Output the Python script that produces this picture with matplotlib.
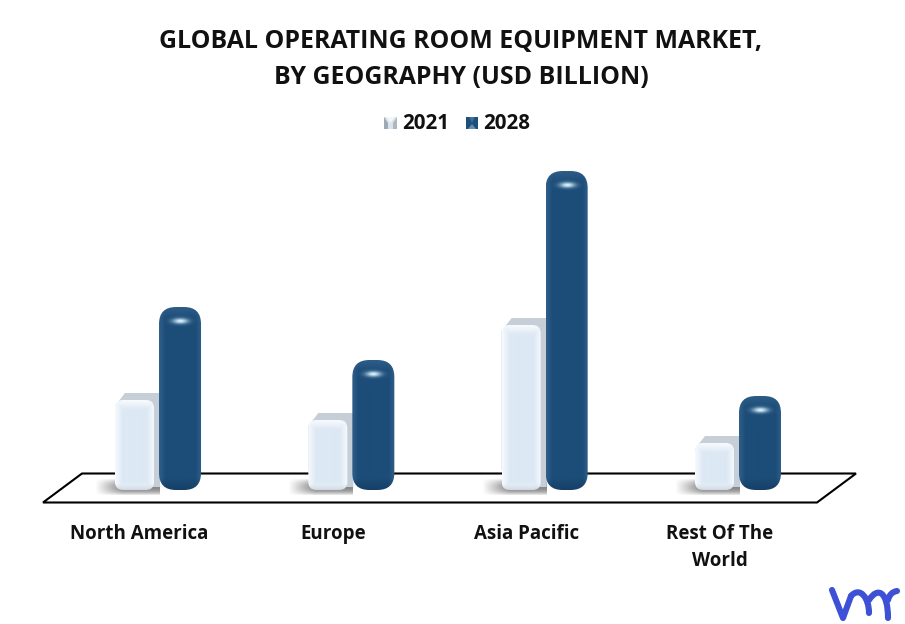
import numpy as np
import matplotlib
matplotlib.use("Agg")
import matplotlib.pyplot as plt
from matplotlib.patches import FancyBboxPatch, Polygon, Rectangle, PathPatch
from matplotlib.path import Path

# heights, no value axis in the original
categories = ["North America", "Europe", "Asia Pacific", "Rest Of The\nWorld"]
years = ["2021", "2028"]
values_2021 = [9.7, 7.7, 17.2, 5.4]
values_2028 = [18.3, 13.0, 31.9, 9.4]

plt.rcParams["font.family"] = ["Open Sans", "DejaVu Sans"]

W, H = 905, 624
PX_X = 193.3  # pixels per category
PX_Y = 10.0   # pixels per value unit

LIGHT_FACE = np.array([220, 232, 244]) / 255
LIGHT_RIM = np.array([248, 251, 254]) / 255
LIGHT_EDGE = np.array([196, 206, 218]) / 255
DARK_FACE = np.array([28, 76, 120]) / 255
DARK_RIM = np.array([48, 96, 138]) / 255
DARK_EDGE = np.array([20, 60, 98]) / 255
HILITE = np.array([215, 242, 255]) / 255


def light_image(w, h):
    # bevelled box: pale rim, flat face, darker lower edge
    xx, yy = np.meshgrid(np.arange(w) + 0.5, np.arange(h) + 0.5)
    d = np.minimum.reduce([xx, w - xx, yy * 0.8, h - yy])
    t = np.clip(d / 8, 0, 1)[..., None]
    img = LIGHT_RIM * (1 - t) + LIGHT_FACE * t
    low = np.clip((yy - (h - 6)) / 6, 0, 1)[..., None] * 0.8
    return img * (1 - low) + LIGHT_EDGE * low


def dark_image(w, h):
    # rounded column: lighter sides, lighter cap, highlight spot near the top
    xx, yy = np.meshgrid(np.arange(w) + 0.5, np.arange(h) + 0.5)
    u = np.abs(xx / w - 0.5) * 2
    t = np.clip((u - 0.7) / 0.3, 0, 1)[..., None]
    img = DARK_FACE * (1 - t) + DARK_RIM * t
    cap = np.clip(1 - yy / 11, 0, 1)[..., None] * 0.9
    img = img * (1 - cap) + DARK_RIM * cap
    low = np.clip((yy - (h - 12)) / 12, 0, 1)[..., None] * 0.8
    img = img * (1 - low) + DARK_EDGE * low
    spot = np.exp(-(((xx - w / 2) / 7.5) ** 2 + ((yy - 14) / 2.8) ** 2))[..., None]
    return img * (1 - spot) + HILITE * spot


def draw_shadow(ax, x, w):
    xs = np.linspace(0, 1, 64)
    ys = np.linspace(-1, 1, 18)
    xx, yy = np.meshgrid(xs, ys)
    alpha = np.clip(xx * 2.4, 0, 1) * np.clip(1 - np.abs(yy) ** 2, 0, 1) * 0.75
    img = np.zeros((18, 64, 4))
    img[..., :3] = 0.38
    img[..., 3] = alpha
    left = x - w / 2 - 20 / PX_X
    right = x + w / 2 + 2 / PX_X
    ax.imshow(img, extent=(left, right, -0.6, 1.2), aspect="auto", zorder=1,
              clip_on=False, interpolation="bilinear")


def draw_bar(ax, x, w, h, img_func, rounding, zorder):
    aspect = (1 / PX_Y) / (1 / PX_X)
    patch = FancyBboxPatch((x - w / 2, 0), w, h,
                           boxstyle="round,pad=0,rounding_size=%f" % (rounding / PX_X),
                           mutation_aspect=aspect, fc="none", ec="none", zorder=zorder)
    ax.add_patch(patch)
    img = img_func(int(round(w * PX_X)), int(round(h * PX_Y)))
    im = ax.imshow(img, extent=(x - w / 2, x + w / 2, 0, h), aspect="auto",
                   zorder=zorder, interpolation="bilinear")
    im.set_clip_path(patch)


fig = plt.figure(figsize=(W / 100, H / 100), dpi=100, facecolor="white")

# background layer in pixel coordinates: floor, legend keys, logo
bg = fig.add_axes([0, 0, 1, 1])
bg.set_xlim(0, W)
bg.set_ylim(H, 0)
bg.axis("off")

bg.add_patch(Polygon([(43, 502.5), (82, 473.5), (856, 473.5), (817, 502.5)], closed=True,
                     fc="white", ec="black", lw=1.5, joinstyle="miter"))

# legend keys
bg.add_patch(Rectangle((384, 117), 13, 12, fc="#dbe3ea", ec="none"))
bg.add_patch(Polygon([(384, 117), (388, 123), (388, 129), (384, 129)], fc="#9fa9b3", ec="none"))
bg.add_patch(Polygon([(397, 117), (393, 123), (393, 129), (397, 129)], fc="#aeb7c0", ec="none"))
bg.add_patch(Polygon([(386, 117), (395, 117), (390.5, 123)], fc="#f4f7fa", ec="none"))
bg.add_patch(Rectangle((466, 117), 12, 12, fc="#1f4e79", ec="none"))
bg.add_patch(Polygon([(469, 117), (475, 117), (472, 123)], fc="#3f7099", ec="none"))
bg.add_patch(Polygon([(468, 129), (476, 129), (472, 124)], fc="#5f90b4", ec="none"))

bg.text(402, 123.5, years[0], fontsize=14.8, fontweight="bold", color="#111111", va="center", ha="left")
bg.text(483, 123.5, years[1], fontsize=14.8, fontweight="bold", color="#111111", va="center", ha="left")

bg.text(461, 41, "GLOBAL OPERATING ROOM EQUIPMENT MARKET,", fontsize=17.9, fontweight="bold",
        color="#111111", ha="center", va="center")
bg.text(461, 77, "BY GEOGRAPHY (USD BILLION)", fontsize=17.9, fontweight="bold",
        color="#111111", ha="center", va="center")

# logo
logo_v = Path([(832, 590), (843, 618), (851, 596)], [Path.MOVETO, Path.LINETO, Path.LINETO])
logo_a = Path([(851, 596), (860, 586), (869, 598), (869, 613)],
              [Path.MOVETO, Path.CURVE4, Path.CURVE4, Path.CURVE4])
logo_b = Path([(869, 600), (878, 586), (888, 592), (888, 618)],
              [Path.MOVETO, Path.CURVE4, Path.CURVE4, Path.CURVE4])
logo_c = Path([(888, 600), (890, 592), (897, 591)], [Path.MOVETO, Path.CURVE3, Path.CURVE3])
for p in (logo_v, logo_a, logo_b, logo_c):
    bg.add_patch(PathPatch(p, fc="none", ec="#3d50d6", lw=4.4, capstyle="round", joinstyle="round"))

# bar layer: one unit on x is one category
ax = fig.add_axes([61.35 / W, (H - 510) / H, 773.3 / W, 350 / H])
ax.patch.set_visible(False)

x = np.arange(len(categories))
offset = 22 / PX_X
bar_w = 42 / PX_X

for i in x:
    left = i - offset
    right = i + offset
    draw_shadow(ax, left, bar_w)
    # back and side of the light box, then its front face
    top = values_2021[i]
    x0 = left - bar_w / 2
    x1 = left + bar_w / 2
    ax.add_patch(Polygon([(x0, top - 1.3), (x0 + 10 / PX_X, top), (x1 + 3 / PX_X, top),
                          (x1 + 3 / PX_X, 0.3), (x0 + 8 / PX_X, 0.3), (x0, 2)],
                         fc="#c6ced8", ec="none", zorder=2))
    draw_bar(ax, left - 1.5 / PX_X, bar_w - 3 / PX_X, top - 0.7, light_image, 8, 3)
    draw_bar(ax, right, bar_w, values_2028[i], dark_image, 17, 4)

ax.set_xlim(-0.5, 3.5)
ax.set_ylim(-2, 33)
for s in ax.spines.values():
    s.set_visible(False)
ax.set_yticks([])
ax.set_xticks(x - 0.095, categories)
ax.tick_params(axis="x", length=0, pad=10, labelsize=13.5, labelcolor="#111111")
for lab in ax.get_xticklabels():
    lab.set_fontweight("bold")
    lab.set_linespacing(1.45)

fig.savefig("out.png", dpi=100)
